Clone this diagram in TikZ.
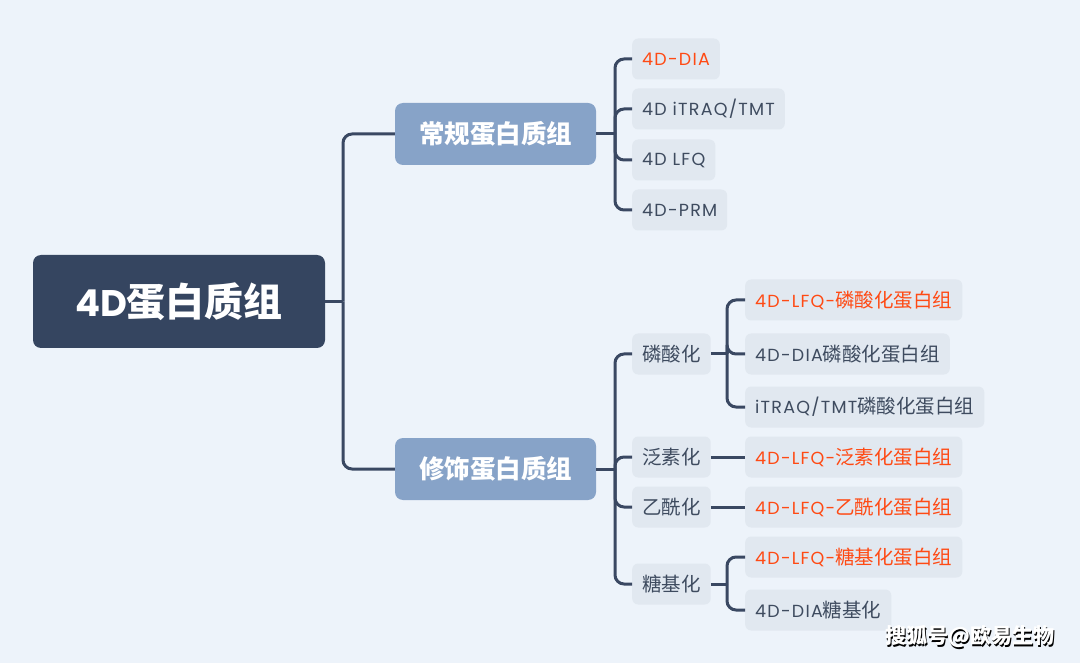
\documentclass[tikz,border=0pt]{standalone}
\usepackage{fontspec}
\newfontfamily\cjk{Noto Sans CJK SC}
\newfontfamily\lat[LetterSpace=7]{Poppins}
\newfontfamily\latb{Poppins}
\definecolor{bg}{HTML}{EDF3FA}
\definecolor{rootbg}{HTML}{354560}
\definecolor{midbg}{HTML}{87A3C8}
\definecolor{leafbg}{HTML}{E1E8F0}
\definecolor{leaftxt}{HTML}{3E4B5F}
\definecolor{hot}{HTML}{FF4A14}
\definecolor{linec}{HTML}{3A4862}
\newcommand{\la}[1]{{\lat\fontsize{17.5}{20}\selectfont #1}}
\newcommand{\cj}[1]{{\cjk\fontsize{19.5}{22}\selectfont #1}}
\tikzset{
  conn/.style={draw=linec, line width=3pt, rounded corners=9pt},
  leaf/.style={fill=leafbg, rounded corners=6pt, minimum height=41pt, inner xsep=10pt, inner ysep=0pt, anchor=west, text=leaftxt},
  hotleaf/.style={leaf, text=hot},
  mid/.style={fill=midbg, rounded corners=8pt, minimum width=201pt, minimum height=62pt, text=white, font=\cjk\bfseries\fontsize{25.5}{28}\selectfont},
  rootbox/.style={fill=rootbg, rounded corners=8pt, minimum width=292pt, minimum height=93pt, text=white},
  wm/.style={font=\cjk\bfseries\fontsize{21}{24}\selectfont, anchor=west, inner sep=0pt},
}
\begin{document}
\begin{tikzpicture}[x=1pt,y=-1pt]
\fill[bg] (0,0) rectangle (1080,663);
\useasboundingbox (0,0) rectangle (1080,663);
% root
\node[rootbox] (root) at (179,301.5) {{\latb\bfseries\fontsize{37}{40}\selectfont 4D}{\cjk\bfseries\fontsize{39}{40}\selectfont 蛋白质组}};
% mid
\node[mid] (cg) at (495.5,134) {常规蛋白质组};
\node[mid] (xs) at (495.5,469) {修饰蛋白质组};
% regular leaves
\node[hotleaf] (a1) at (632,59) {\la{4D-DIA}};
\node[leaf] (a2) at (632,109) {\la{4D iTRAQ/TMT}};
\node[leaf] (a3) at (632,160) {\la{4D LFQ}};
\node[leaf] (a4) at (632,210) {\la{4D-PRM}};
% modification categories
\node[leaf] (p) at (632,354) {\cj{磷酸化}};
\node[leaf] (u) at (632,457) {\cj{泛素化}};
\node[leaf] (ac) at (632,507) {\cj{乙酰化}};
\node[leaf] (g) at (632,584) {\cj{糖基化}};
% modification leaves
\node[hotleaf] (p1) at (745,300) {\la{4D-LFQ-}\cj{磷酸化蛋白组}};
\node[leaf] (p2) at (745,354) {\la{4D-DIA}\cj{磷酸化蛋白组}};
\node[leaf] (p3) at (745,407) {\la{iTRAQ/TMT}\cj{磷酸化蛋白组}};
\node[hotleaf] (u1) at (745,457) {\la{4D-LFQ-}\cj{泛素化蛋白组}};
\node[hotleaf] (ac1) at (745,507) {\la{4D-LFQ-}\cj{乙酰化蛋白组}};
\node[hotleaf] (g1) at (745,557) {\la{4D-LFQ-}\cj{糖基化蛋白组}};
\node[leaf] (g2) at (745,610) {\la{4D-DIA}\cj{糖基化}};
% junctions
\coordinate (j0) at (343,301.5);
\coordinate (j1) at (615,134);
\coordinate (j2) at (615,469);
\coordinate (jp) at (727,354);
\coordinate (jg) at (727,584);
% connectors
\draw[conn] (root.east) -- (j0);
\draw[conn] (j0) |- (cg.west);
\draw[conn] (j0) |- (xs.west);
\draw[conn] (cg.east) -- (j1);
\foreach \n in {a1,a2,a3,a4} \draw[conn] (j1) |- (\n.west);
\draw[conn] (xs.east) -- (j2);
\foreach \n in {p,u,ac,g} \draw[conn] (j2) |- (\n.west);
\draw[conn] (p.east) -- (jp);
\foreach \n in {p1,p2,p3} \draw[conn] (jp) |- (\n.west);
\draw[conn] (u.east) -- (u1.west);
\draw[conn] (ac.east) -- (ac1.west);
\draw[conn] (g.east) -- (jg);
\foreach \n in {g1,g2} \draw[conn] (jg) |- (\n.west);
% watermark
\node[wm, text=black] (wms) at (886.2,638.2) {搜狐号@欧易生物};
\node[wm, text=white] (wmt) at (885,637) {搜狐号@欧易生物};
\end{tikzpicture}
\end{document}
